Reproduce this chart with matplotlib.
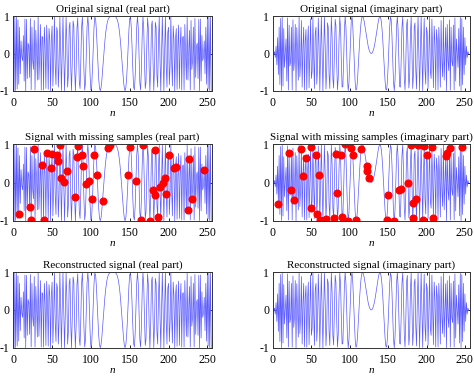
import numpy as np
import matplotlib
matplotlib.use('Agg')
import matplotlib.pyplot as plt

# chirp samples for |n - 128| = 0..128 (signal is symmetric about n = 128)
re_half = [1.0, 1.0, 0.999, 0.994, 0.981, 0.953, 0.904, 0.825, 0.707, 0.545,
           0.337, 0.086, -0.195, -0.482, -0.741, -0.928, -1.0, -0.919, -0.672, -0.279,
           0.195, 0.644, 0.941, 0.978, 0.707, 0.183, -0.427, -0.888, -0.981, -0.625,
           0.049, 0.716, 1.0, 0.698, -0.049, -0.781, -0.981, -0.461, 0.428, 0.983,
           0.707, -0.207, -0.941, -0.765, 0.195, 0.960, 0.672, -0.394, -1.0, -0.371,
           0.741, 0.876, -0.195, -0.996, -0.337, 0.838, 0.707, -0.566, -0.904, 0.302,
           0.981, -0.110, -0.999, 0.012, 1.0, -0.012, -0.999, 0.110, 0.981, -0.302,
           -0.904, 0.566, 0.707, -0.838, -0.337, 0.996, -0.195, -0.876, 0.741, 0.371,
           -1.0, 0.394, 0.672, -0.960, 0.195, 0.765, -0.941, 0.207, 0.707, -0.983,
           0.428, 0.461, -0.981, 0.781, -0.049, -0.698, 1.0, -0.716, 0.049, 0.625,
           -0.981, 0.888, -0.427, -0.183, 0.707, -0.978, 0.941, -0.644, 0.195, 0.279,
           -0.672, 0.919, -1.0, 0.928, -0.741, 0.482, -0.195, -0.086, 0.337, -0.545,
           0.707, -0.825, 0.904, -0.953, 0.981, -0.994, 0.999, -1.0, 1.0]
im_half = [0.0, 0.012, 0.049, 0.110, 0.195, 0.302, 0.427, 0.566, 0.707, 0.838,
           0.941, 0.996, 0.981, 0.876, 0.672, 0.371, 0.0, -0.394, -0.741, -0.960,
           -0.981, -0.765, -0.337, 0.207, 0.707, 0.983, 0.904, 0.461, -0.195, -0.781,
           -0.999, -0.698, 0.0, 0.716, 0.999, 0.625, -0.195, -0.888, -0.904, -0.183,
           0.707, 0.978, 0.337, -0.644, -0.981, -0.279, 0.741, 0.919, 0.0, -0.928,
           -0.672, 0.482, 0.981, 0.086, -0.941, -0.545, 0.707, 0.825, -0.428, -0.953,
           0.195, 0.994, -0.049, -1.0, 0.0, 1.0, -0.049, -0.994, 0.195, 0.953,
           -0.428, -0.825, 0.707, 0.545, -0.941, -0.086, 0.981, -0.482, -0.672, 0.928,
           0.0, -0.919, 0.741, 0.279, -0.981, 0.644, 0.337, -0.978, 0.707, 0.183,
           -0.904, 0.888, -0.195, -0.625, 0.999, -0.716, 0.0, 0.698, -0.999, 0.781,
           -0.195, -0.461, 0.904, -0.983, 0.707, -0.207, -0.337, 0.765, -0.981, 0.960,
           -0.741, 0.394, 0.0, -0.371, 0.672, -0.876, 0.981, -0.996, 0.941, -0.838,
           0.707, -0.566, 0.427, -0.302, 0.195, -0.110, 0.049, -0.012, 0.0]

# positions of the missing samples
miss_n = [7, 21, 23, 27, 37, 39, 43, 49, 50, 56, 57, 60, 61, 65, 69, 79, 82, 83,
          88, 90, 94, 98, 102, 104, 108, 115, 122, 123, 125, 148, 150, 158, 164,
          167, 176, 180, 182, 183, 186, 189, 193, 195, 197, 200, 207, 209, 225,
          227, 230, 246]

titles = ['Original signal (real part)', 'Original signal (imaginary part)',
          'Signal with missing samples (real part)', 'Signal with missing samples (imaginary part)',
          'Reconstructed signal (real part)', 'Reconstructed signal (imaginary part)']
xticks = [0, 50, 100, 150, 200, 250]
yticks = [-1, 0, 1]
ytick_labels = ['-1', '0', '1']

n = np.arange(256)
re_half = np.array(re_half)
im_half = np.array(im_half)
x_re = np.concatenate([re_half[128:0:-1], re_half[:128]])
x_im = np.concatenate([im_half[128:0:-1], im_half[:128]])
miss_n = np.array(miss_n)

plt.rcParams['font.family'] = ['Liberation Serif', 'DejaVu Serif']
plt.rcParams['font.size'] = 8

W, H = 474, 377
fig = plt.figure(figsize=(W / 100, H / 100), dpi=100)

cols = [(13.3, 212.0), (273.0, 469.5)]
rows = [(16.3, 90.7), (144.3, 220.7), (272.3, 347.7)]

line_c = '#5a5aff'
for r, (y0, y1) in enumerate(rows):
    for c, (x0, x1) in enumerate(cols):
        ax = fig.add_axes([x0 / W, 1 - y1 / H, (x1 - x0) / W, (y1 - y0) / H])
        sig = x_re if c == 0 else x_im
        ax.plot(n, sig, color=line_c, lw=0.5)
        if r == 1:
            ax.plot(miss_n, sig[miss_n], 'o', color='red', ms=4.8, mec='red')
        ax.set_xlim(0, 256)
        ax.set_ylim(-1, 1)
        ax.set_xticks(xticks)
        ax.set_yticks(yticks)
        ax.set_yticklabels(ytick_labels)
        ax.tick_params(direction='in', top=True, right=True, length=2.5, width=0.6,
                       labelsize=8.5)
        ax.tick_params(axis='x', pad=4.5)
        ax.tick_params(axis='y', pad=2.8)
        for s in ax.spines.values():
            s.set_linewidth(0.7)
            s.set_color('#333333')
        ax.set_title(titles[r * 2 + c], fontsize=8.0, pad=3)
        ax.set_xlabel('n', fontsize=8, style='italic', labelpad=0)

fig.savefig('out.png', dpi=100)
